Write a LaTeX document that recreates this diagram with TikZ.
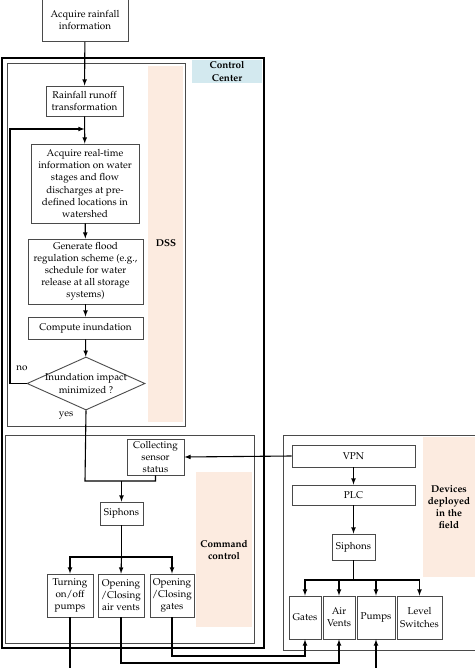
\documentclass[tikz,border=0pt]{standalone}
\usepackage[T1]{fontenc}
\usepackage{mathpazo}
\usepackage{xcolor}
\usepackage{tikz}
\usetikzlibrary{shapes,arrows,positioning,calc}

\definecolor{peach}{HTML}{FCEBE0}
\definecolor{paleblue}{HTML}{D3E9EF}
\definecolor{boxgray}{HTML}{4A4A4A}

\begin{document}
\begin{tikzpicture}[x=1pt,y=-1pt,
    font=\fontsize{9.9}{12.1}\selectfont,
    stepbox/.style={draw=boxgray,line width=0.9pt,align=center,inner sep=1pt},
    decbox/.style={draw=boxgray,line width=0.9pt,diamond,inner sep=0pt,minimum width=118pt,minimum height=53pt},
    group/.style={draw=boxgray,line width=1pt},
    tag/.style={font=\fontsize{9.9}{12.1}\selectfont\bfseries,align=center},
    flow/.style={->,>=latex,line width=1.1pt}]
  \useasboundingbox (0,0) rectangle (474,668);

  % containers
  \fill[peach] (148,66) rectangle (183,422);
  \fill[peach] (196,472) rectangle (252,627);
  \fill[peach] (423,437) rectangle (476,577);
  \fill[paleblue] (192,60) rectangle (262,83);
  \draw[group] (7,64) rectangle (185,426);
  \draw[group] (5,435) rectangle (254,643);
  \draw[group] (283,435) rectangle (480,650);
  \draw[line width=2pt] (1.5,58) rectangle (263.5,648);

  \node[tag] (cclabel) at (227,71.5) {Control\\Center};
  \node[tag] (dsslabel) at (166,243) {DSS};
  \node[tag] (cmdlabel) at (224,550) {Command\\control};
  \node[tag] (devlabel) at (449,507) {Devices\\deployed\\in the\\field};

  % DSS
  \node[stepbox,minimum width=86pt,minimum height=43pt] (acq) at (85,20) {Acquire rainfall\\information};
  \node[stepbox,minimum width=77pt,minimum height=30pt] (runoff) at (84.5,101) {Rainfall runoff\\transformation};
  \node[stepbox,minimum width=108pt,minimum height=79pt] (realtime) at (85,183.5) {Acquire real-time\\information on water\\stages and flow\\discharges at pre-\\defined locations in\\watershed};
  \node[stepbox,minimum width=115pt,minimum height=65pt] (gen) at (85.5,271.5) {Generate flood\\regulation scheme (e.g.,\\schedule for water\\release at all storage\\systems)};
  \node[stepbox,minimum width=115pt,minimum height=22pt] (comp) at (85.5,328) {Compute inundation};
  \node[decbox] (dec) at (86,383.5) {};
  \node[align=center] (dectext) at (dec) {Inundation impact\\minimized ?};
  \node (no) at (22,368) {no};
  \node (yes) at (66,415) {yes};

  % command control
  \node[stepbox,minimum width=57pt,minimum height=36pt] (coll) at (155.5,457) {Collecting\\sensor\\status};
  \node[stepbox,minimum width=43pt,minimum height=23pt] (siph1) at (121.5,513.5) {Siphons};
  \node[stepbox,minimum width=46pt,minimum height=43pt] (turn) at (70,595.5) {Turning\\on/off\\pumps};
  \node[stepbox,minimum width=46pt,minimum height=43pt] (vents) at (121,595.5) {Opening\\/Closing\\air vents};
  \node[stepbox,minimum width=44pt,minimum height=43pt] (gatesc) at (172,595.5) {Opening\\/Closing\\gates};

  % field devices
  \node[stepbox,minimum width=123pt,minimum height=22pt] (vpn) at (353.5,456) {VPN};
  \node[stepbox,minimum width=123pt,minimum height=20pt] (plc) at (353.5,495) {PLC};
  \node[stepbox,minimum width=43pt,minimum height=26pt] (siph2) at (353.5,547) {Siphons};
  \node[stepbox,minimum width=32pt,minimum height=43pt] (gates) at (305,617.5) {Gates};
  \node[stepbox,minimum width=32pt,minimum height=43pt] (airv) at (339,617.5) {Air\\Vents};
  \node[stepbox,minimum width=38pt,minimum height=43pt] (pumps) at (376,617.5) {Pumps};
  \node[stepbox,minimum width=45pt,minimum height=43pt] (level) at (419.5,617.5) {Level\\Switches};

  \coordinate (loopjoin) at (84.5,129);
  \coordinate (yesjoin) at (121.5,481);
  \coordinate (split1) at (121.5,557);
  \coordinate (split2) at (353.5,580);

  \draw[flow] (acq) -- (runoff);
  \draw[flow] (runoff) -- (realtime);
  \draw[flow] (dec.west) -- (10,383.5) |- (loopjoin);
  \draw[flow] (realtime) -- (gen);
  \draw[flow] (gen) -- (comp);
  \draw[flow] (comp) -- (dec);
  \draw[line width=1.1pt] (dec.south) -- (85,481) -| (coll.south);
  \draw[flow] (yesjoin) -- (siph1);
  \draw[flow] (vpn.west) -- (coll.east);

  \draw[line width=1.1pt] (siph1) -- (split1);
  \draw[flow] (split1) -| (turn.north);
  \draw[flow] (split1) -- (vents.north);
  \draw[flow] (split1) -| (gatesc.north);

  \draw[flow] (vpn) -- (plc);
  \draw[flow] (plc) -- (siph2);
  \draw[line width=1.1pt] (siph2) -- (split2);
  \draw[flow] (split2) -| (gates.north);
  \draw[flow] (split2) -| (airv.north);
  \draw[flow] (split2) -| (pumps.north);
  \draw[flow] (split2) -| (level.north);

  \draw[flow] (gatesc.south) -- (172,656) -| (gates.south);
  \draw[flow] (vents.south) -- (121,663) -| (airv.south);
  \draw[flow] (turn.south) -- (70,690) -| (pumps.south);
\end{tikzpicture}
\end{document}
